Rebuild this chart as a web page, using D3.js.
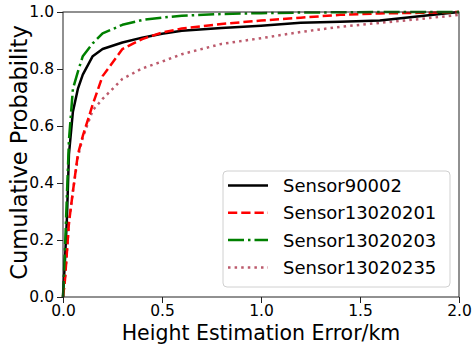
<!DOCTYPE html>
<html>
<head>
<meta charset="utf-8">
<script src="https://cdn.jsdelivr.net/npm/d3@7"></script>
<style>
  html, body { margin: 0; padding: 0; background: #fff; }
  svg { display: block; font-family: "DejaVu Sans", sans-serif; }
</style>
</head>
<body>
<svg id="chart" width="474" height="348"></svg>
<script>
// Height estimation error grid (km) shared by every sensor's CDF
const errorKm = [0, 0.01, 0.02, 0.03, 0.05, 0.075, 0.1, 0.15, 0.2, 0.3, 0.4, 0.5, 0.6, 0.8, 1.0, 1.2, 1.4, 1.6, 1.8, 2.0];

// Cumulative probability for each sensor at the grid above
const sensor90002    = [0, 0.13, 0.28, 0.50, 0.65, 0.73, 0.78, 0.845, 0.87, 0.893, 0.91, 0.924, 0.934, 0.944, 0.952, 0.962, 0.966, 0.970, 0.985, 1.0];
const sensor13020201 = [0, 0.06, 0.16, 0.26, 0.37, 0.50, 0.565, 0.675, 0.775, 0.87, 0.905, 0.928, 0.942, 0.958, 0.970, 0.980, 0.990, 0.995, 0.997, 1.0];
const sensor13020203 = [0, 0.17, 0.36, 0.55, 0.73, 0.79, 0.845, 0.89, 0.925, 0.955, 0.972, 0.980, 0.987, 0.993, 0.996, 0.998, 0.999, 1.0, 1.0, 1.0];
const sensor13020235 = [0, 0.06, 0.16, 0.26, 0.37, 0.49, 0.56, 0.655, 0.695, 0.765, 0.802, 0.826, 0.852, 0.888, 0.908, 0.930, 0.948, 0.962, 0.975, 0.99];

const seriesNames = ["Sensor90002", "Sensor13020201", "Sensor13020203", "Sensor13020235"];
const xTicks = [0, 0.5, 1.0, 1.5, 2.0];
const yTicks = [0, 0.2, 0.4, 0.6, 0.8, 1.0];

const series = [
  { name: seriesNames[0], values: sensor90002,    color: "#000000", dash: null },
  { name: seriesNames[1], values: sensor13020201, color: "#ff0000", dash: "9.25,4" },
  { name: seriesNames[2], values: sensor13020203, color: "#008000", dash: "16,4,2.5,4" },
  { name: seriesNames[3], values: sensor13020235, color: "#bc5a6c", dash: "2.5,4.1" }
];

const svg = d3.select("#chart");
const margin = { left: 63, top: 12, right: 15, bottom: 51 };
const W = 474 - margin.left - margin.right;
const H = 348 - margin.top - margin.bottom;

const x = d3.scaleLinear().domain([0, 2]).range([0, W]);
const y = d3.scaleLinear().domain([0, 1]).range([H, 0]);

const g = svg.append("g").attr("transform", `translate(${margin.left},${margin.top})`);

svg.append("defs").append("clipPath").attr("id", "plotclip")
  .append("rect").attr("x", -2).attr("y", -2).attr("width", W + 4).attr("height", H + 4);

const line = d3.line()
  .x((d, i) => x(errorKm[i]))
  .y(d => y(d));

// dotted curve sits underneath so the others stay crisp where they overlap
const drawOrder = [3, 0, 1, 2];
const lines = g.append("g").attr("clip-path", "url(#plotclip)");
drawOrder.forEach(k => {
  const s = series[k];
  lines.append("path")
    .datum(s.values)
    .attr("d", line)
    .attr("fill", "none")
    .attr("stroke", s.color)
    .attr("stroke-width", 2.5)
    .attr("stroke-dasharray", s.dash)
    .attr("stroke-linejoin", "round");
});

// axes
const xAxis = g.append("g").attr("transform", `translate(0,${H})`)
  .call(d3.axisBottom(x).tickValues(xTicks).tickFormat(d3.format(".1f")).tickSize(6).tickPadding(2));
const yAxis = g.append("g")
  .call(d3.axisLeft(y).tickValues(yTicks).tickFormat(d3.format(".1f")).tickSize(6).tickPadding(3));
[xAxis, yAxis].forEach(a => {
  a.select(".domain").remove();
  a.selectAll("line").attr("stroke", "#222").attr("stroke-width", 1);
  a.selectAll("text").attr("font-size", 15.5).attr("fill", "#000").attr("font-family", "DejaVu Sans");
});

// frame
g.append("rect").attr("x", 0).attr("y", 0).attr("width", W).attr("height", H)
  .attr("fill", "none").attr("stroke", "#222").attr("stroke-width", 1);

// axis titles
svg.append("text")
  .attr("x", margin.left + W / 2).attr("y", 340)
  .attr("text-anchor", "middle").attr("font-size", 20.5)
  .text("Height Estimation Error/km");
svg.append("text")
  .attr("transform", `translate(27,${margin.top + H / 2 - 2}) rotate(-90)`)
  .attr("text-anchor", "middle").attr("font-size", 22.5)
  .text("Cumulative Probability");

// legend
const leg = svg.append("g").attr("transform", "translate(223,171)");
leg.append("rect").attr("width", 227).attr("height", 116).attr("rx", 4)
  .attr("fill", "#fff").attr("fill-opacity", 0.8)
  .attr("stroke", "#d0d0d0").attr("stroke-width", 1);
series.forEach((s, i) => {
  const cy = 14.5 + i * 27.3;
  leg.append("line")
    .attr("x1", 5).attr("x2", 45).attr("y1", cy).attr("y2", cy)
    .attr("stroke", s.color).attr("stroke-width", 2.5)
    .attr("stroke-dasharray", s.dash);
  leg.append("text")
    .attr("x", 60).attr("y", cy).attr("dy", "0.36em")
    .attr("font-size", 18)
    .text(s.name);
});
</script>
</body>
</html>
